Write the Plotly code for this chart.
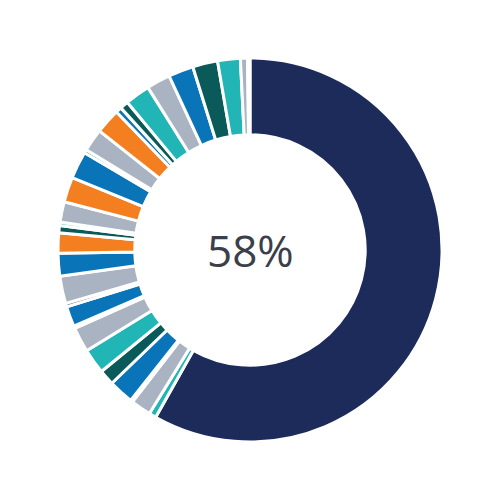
import plotly.graph_objects as go

labels = [f"S{i}" for i in range(31)]
values = [58, 0.6, 1.7, 0.2, 2.1, 1.3, 2.1, 2.1, 0.2, 1.7, 0.3, 2.3, 1.9, 1.7, 0.6, 0.3,
          1.7, 2.1, 2.3, 0.3, 1.9, 2.1, 0.5, 0.7, 2.1, 2.0, 2.1, 2.1, 1.9, 0.6, 0.2]
kinds = ["navy", "teal", "gray", "orange", "blue", "dteal", "teal", "gray", "orange", "blue",
         "dgray", "gray", "blue", "orange", "dteal", "teal", "gray", "orange", "blue", "teal",
         "gray", "orange", "blue", "dteal", "teal", "gray", "blue", "dteal", "teal", "gray", "gray"]
palette = {"navy": "#1c2b5a", "blue": "#0a74b8", "dteal": "#0b5a5a", "teal": "#22b5b5",
           "gray": "#aab3c2", "orange": "#f47f20", "dgray": "#6f7a8a"}
center_text = "58%"

fig = go.Figure(go.Pie(
    labels=labels, values=values, hole=0.6, sort=False, direction="clockwise", rotation=0,
    marker=dict(colors=[palette[k] for k in kinds], line=dict(color="white", width=3)),
    textinfo="none", hoverinfo="skip", showlegend=False,
))
fig.add_annotation(text=center_text, x=0.5, y=0.5, xref="paper", yref="paper", showarrow=False,
                   font=dict(size=44, color="#3a3f4a", family="Open Sans"))
fig.update_layout(width=500, height=500, margin=dict(l=50, r=66, t=50, b=66),
                  paper_bgcolor="white", plot_bgcolor="white")
fig.write_html("out.html")
